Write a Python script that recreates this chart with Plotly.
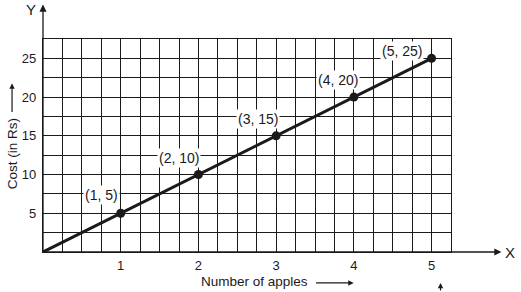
import plotly.graph_objects as go

apples = [0, 1, 2, 3, 4, 5]
cost = [0, 5, 10, 15, 20, 25]
point_labels = ["(1, 5)", "(2, 10)", "(3, 15)", "(4, 20)", "(5, 25)"]
x_ticks = [1, 2, 3, 4, 5]
y_ticks = [5, 10, 15, 20, 25]

FONT = "Arial, Liberation Sans, sans-serif"
INK = "#1a1a1a"
W, H = 521, 292
L, R, T, B = 43, 69.5, 38.5, 40
pw, ph = W - L - R, H - T - B

def px_to_paper_x(px):
    return (px - L) / pw

def px_to_paper_y(py):
    return (H - B - py) / ph

fig = go.Figure()
fig.add_trace(go.Scatter(x=apples, y=cost, mode="lines",
                         line=dict(color=INK, width=3), hoverinfo="skip"))
fig.add_trace(go.Scatter(x=apples[1:], y=cost[1:], mode="markers",
                         marker=dict(color=INK, size=9), hoverinfo="skip"))

grid = dict(gridcolor=INK, gridwidth=1.3)
fig.update_xaxes(range=[0, 5.25], tickvals=x_ticks, showgrid=True, **grid,
                 minor=dict(dtick=0.25, tick0=0, showgrid=True, **grid),
                 zeroline=False, showline=True, mirror=True, linecolor=INK, linewidth=1.3,
                 ticks="", ticklabelstandoff=1,
                 tickfont=dict(family=FONT, size=13, color=INK), fixedrange=True)
fig.update_yaxes(range=[0, 27.5], tickvals=y_ticks, showgrid=True, **grid,
                 minor=dict(dtick=2.5, tick0=0, showgrid=True, **grid),
                 zeroline=False, showline=True, mirror=True, linecolor=INK, linewidth=1.3,
                 ticks="", ticklabelstandoff=3,
                 tickfont=dict(family=FONT, size=13, color=INK), fixedrange=True)

annotations = []
offsets = [(-19, 18), (-19, 17), (-18, 17), (-16, 17), (-30, 7)]
for xv, yv, lab, (dx, dy) in zip(apples[1:], cost[1:], point_labels, offsets):
    annotations.append(dict(x=xv, y=yv, xref="x", yref="y", text=lab, showarrow=False,
                            xanchor="center", yanchor="middle",
                            xshift=dx, yshift=dy, bgcolor="white", borderpad=1,
                            font=dict(family=FONT, size=14, color=INK)))

def text_at(px, py, text, size=13, angle=0):
    return dict(x=px_to_paper_x(px), y=px_to_paper_y(py), xref="paper", yref="paper",
                text=text, showarrow=False, xanchor="center", yanchor="middle",
                textangle=angle, font=dict(family=FONT, size=size, color=INK))

def arrow_to(px, py, ax, ay, size=0.9, width=1.2):
    return dict(x=px_to_paper_x(px), y=px_to_paper_y(py), xref="paper", yref="paper",
                ax=ax, ay=ay, text="", showarrow=True, arrowhead=2, arrowsize=size,
                arrowwidth=width, arrowcolor=INK)

# Axis lines with arrowheads
annotations.append(arrow_to(502, 252, -(502 - L), 0, 1.1, 1.3))
annotations.append(arrow_to(L, 4, 0, 252 - 4, 1.1, 1.3))
annotations.append(text_at(511, 252, "X", 15))
annotations.append(text_at(31, 9, "Y", 15))

# Axis titles with arrows
annotations.append(text_at(255, 282, "Number of apples", 13.5))
annotations.append(arrow_to(354, 283, -39, 0))
annotations.append(text_at(12, 154, "Cost (in Rs)", 13.5, -90))
annotations.append(arrow_to(12, 83, 0, 30))
# stray small arrow at bottom
annotations.append(arrow_to(441, 283, 0, 10))

fig.update_layout(width=W, height=H, margin=dict(l=L, r=R, t=T, b=B),
                  plot_bgcolor="white", paper_bgcolor="white", showlegend=False,
                  annotations=annotations)

fig.write_html("out.html", config=dict(displayModeBar=False))
